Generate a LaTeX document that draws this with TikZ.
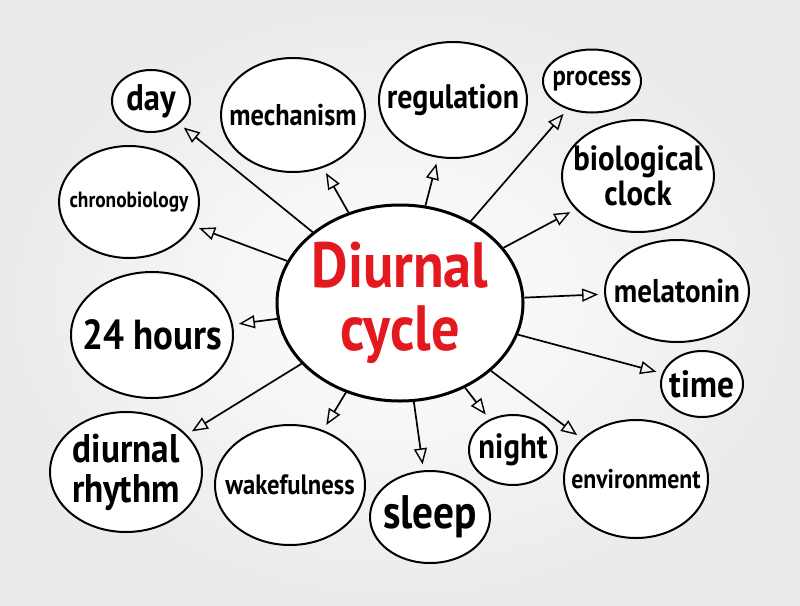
\documentclass[tikz,border=0pt]{standalone}
\usepackage{fontspec}
\setmainfont{PT Sans}
\newfontfamily\hand[FakeStretch=0.88]{PT Sans}
\usetikzlibrary{shapes.geometric,arrows.meta}

\definecolor{marker}{HTML}{E3191F}
\newcommand{\handsize}[1]{\hand\bfseries\fontsize{#1}{#1}\selectfont}

\tikzset{
  bubble/.style={ellipse, draw, line width=2pt, fill=white, inner sep=0pt},
  hub/.style={ellipse, draw, line width=3pt, fill=white, inner sep=0pt},
  link/.style={line width=1.7pt, shorten >=6pt,
    -{Triangle[open, length=16pt, width=13pt, line width=1.4pt]}},
  word/.style={font=\handsize{#1}, align=center},
}

\begin{document}
\begin{tikzpicture}[x=1pt, y=-1pt]
        % Background
        \useasboundingbox (0,0) rectangle (800,605);
        \shade[inner color=white, outer color=black!8] (0,0) rectangle (800,605);

        % Hub
        \node[hub, minimum width=246, minimum height=196,
              label={[font=\hand\bfseries\fontsize{64}{63}\selectfont, align=center,
                      text=marker]center:Diurnal\\cycle}] (cycle) at (400,303) {};

        % Upper ring
        \node[bubble, minimum width=78, minimum height=62,
              label={[word=37]center:day}] (day) at (151,101) {};
        \node[bubble, minimum width=144, minimum height=114,
              label={[word=30]center:mechanism}] (mech) at (293,115) {};
        \node[bubble, minimum width=148, minimum height=116,
              label={[word=34]center:regulation}] (reg) at (453,100) {};
        \node[bubble, minimum width=98, minimum height=63,
              label={[word=28]center:process}] (proc) at (592,81) {};
        \node[bubble, minimum width=152, minimum height=112,
              label={[word=35]center:biological\\clock}] (clock) at (638,176) {};

        % Sides
        \node[bubble, minimum width=140, minimum height=112,
              label={[word=22]center:chronobiology}] (chrono) at (129,202) {};
        \node[bubble, minimum width=144, minimum height=102,
              label={[word=33]center:melatonin}] (mela) at (677,291) {};
        \node[bubble, minimum width=162, minimum height=126,
              label={[word=42]center:24 hours}] (hours) at (152,335) {};
        \node[bubble, minimum width=82, minimum height=66,
              label={[word=38]center:time}] (time) at (702,384) {};

        % Lower ring
        \node[bubble, minimum width=152, minimum height=120,
              label={[word=40]center:diurnal\\rhythm}] (rhythm) at (126,472) {};
        \node[bubble, minimum width=150, minimum height=120,
              label={[word=28]center:wakefulness}] (wake) at (290,485) {};
        \node[bubble, minimum width=120, minimum height=92,
              label={[word=47]center:sleep}] (sleep) at (430,517) {};
        \node[bubble, minimum width=88, minimum height=70,
              label={[word=35]center:night}] (night) at (513,450) {};
        \node[bubble, minimum width=144, minimum height=118,
              label={[word=27]center:environment}] (env) at (636,479) {};

        % Links
        \foreach \leaf in {day,mech,reg,proc,clock,chrono,mela,hours,time,rhythm,wake,sleep,night,env}
          \draw[link] (cycle) -- (\leaf);
\end{tikzpicture}
\end{document}
